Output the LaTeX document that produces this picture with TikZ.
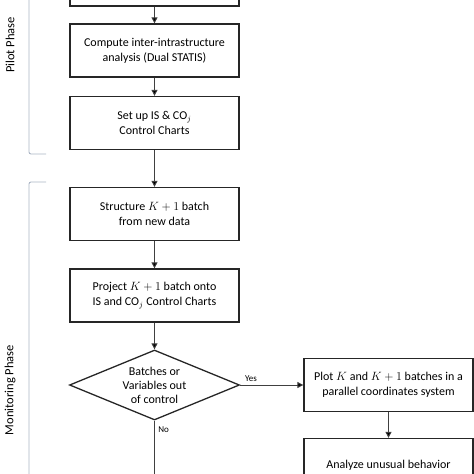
\documentclass[tikz,border=0pt]{standalone}
\usepackage{fontspec}
\setmainfont{Carlito}
\usetikzlibrary{positioning, arrows.meta, shapes.geometric}
\definecolor{bracketgray}{RGB}{170,180,196}

\begin{document}
\begin{tikzpicture}[x=1pt, y=-1pt, on grid, auto, >={Triangle[length=6pt, width=6pt]},
    box/.style={draw=black!85, line width=1.3pt, rectangle, minimum width=169pt, minimum height=53pt, inner sep=0pt, align=center, font=\fontsize{12}{14.7}\selectfont},
    decision/.style={draw=black!85, line width=1.3pt, diamond, shape aspect=2.43, minimum width=170pt, minimum height=70pt, inner sep=0pt, align=center, font=\fontsize{12}{14}\selectfont},
    phase/.style={rotate=90, font=\fontsize{12.5}{14}\selectfont},
    bracket/.style={draw=bracketgray, line width=0.9pt, rounded corners=2pt},
    flow/.style={draw=black!75, line width=0.9pt}]
    \clip (0,0) rectangle (474,474);

    % Nodes (main column)
    \node[box] (top) at (154.5,-20.5) {};
    \node[box] (compute) [below=71pt of top] {Compute inter-intrastructure\\analysis (Dual STATIS)};
    \node[box] (setup) [below=72.5pt of compute] {Set up IS \& CO$_j$\\Control Charts};
    \node[box] (structure) [below=91pt of setup] {Structure $K+1$ batch\\from new data};
    \node[box] (project) [below=81.5pt of structure] {Project $K+1$ batch onto\\IS and CO$_j$ Control Charts};
    \node[decision] (check) [below=89.5pt of project] {Batches or\\Variables out\\of control};

    % Nodes (out of control branch)
    \node[box] (plot) [right=234pt of check] {Plot $K$ and $K+1$ batches in a\\parallel coordinates system};
    \node[box] (analyze) [below=80pt of plot] {Analyze unusual behavior};
    \coordinate (bottom) at (154.5,480);

    % Phases
    \node[phase] (pilot) at (10,45) {Pilot Phase};
    \node[phase] (monitor) at (10,390) {Monitoring Phase};
    \draw[bracket] (46,154) -- (29,154) -- (29,-5);
    \draw[bracket] (46,182) -- (29,182) -- (29,480);

    % Transitions
    \path[flow, ->]
        (top) edge (compute)
        (compute) edge (setup)
        (setup) edge (structure)
        (structure) edge (project)
        (project) edge (check)
        (check) edge node[pos=0.17, font=\fontsize{9}{10}\selectfont] {Yes} (plot)
        (plot) edge (analyze);
    \draw[flow] (check) -- node[pos=0.15, font=\fontsize{9}{10}\selectfont] {No} (bottom);
\end{tikzpicture}
\end{document}
